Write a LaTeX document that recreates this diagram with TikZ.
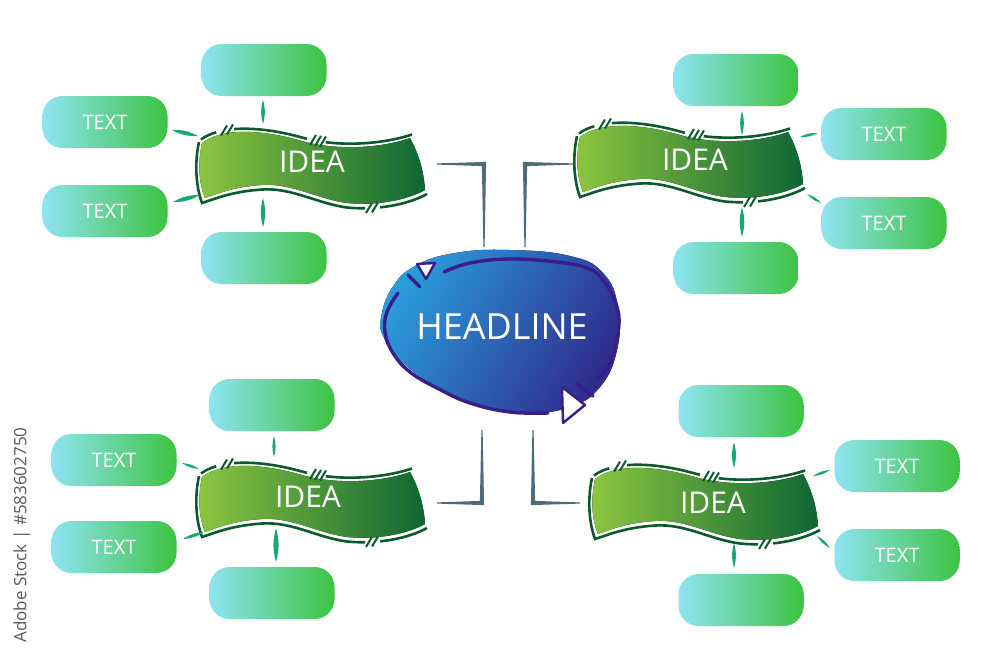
\documentclass[tikz,border=0pt]{standalone}
\usepackage{fontspec}
\setmainfont{Open Sans}
\usetikzlibrary{calc}
\definecolor{boxL}{HTML}{8FE4F2}
\definecolor{boxR}{HTML}{3CC341}
\definecolor{banL}{HTML}{8CC63F}
\definecolor{banR}{HTML}{0E6634}
\definecolor{banLine}{HTML}{0B5A2A}
\definecolor{spokeC}{HTML}{16A86E}
\definecolor{linkC}{HTML}{4F6B78}
\definecolor{blobL}{HTML}{2A9CDB}
\definecolor{blobR}{HTML}{2F2C8C}
\definecolor{blobLine}{HTML}{3A1C8C}
\definecolor{wmC}{HTML}{5A5A5A}
\begin{document}
\begin{tikzpicture}[x=1pt,y=-1pt,
  tbox/.style={rounded corners=20pt,minimum width=125pt,minimum height=52pt,
    inner sep=0pt,left color=boxL,right color=boxR,text=white,
    font=\fontsize{20}{20}\selectfont},
  ideatxt/.style={text=white,inner sep=0pt,font=\fontsize{30}{30}\selectfont},
  spk/.style={fill=spokeC},
  lnk/.style={fill=linkC},
  bline/.style={draw=blobLine,line width=3.4pt,line cap=round},
  banner/.pic={
    \fill[left color=banL,right color=banR]
      (-110,-23) .. controls (-92,-37) and (-55,-38) .. (-10,-25)
      .. controls (25,-15) and (70,-18) .. (98,-28)
      .. controls (108,-10) and (112,8) .. (113,24)
      .. controls (95,34) and (65,40) .. (35,37)
      .. controls (5,33) and (-20,17) .. (-50,19)
      .. controls (-80,21) and (-95,28) .. (-107,32)
      .. controls (-114,15) and (-114,-5) .. (-110,-23) -- cycle;
    \draw[banLine,line width=2.6pt,dash pattern=on 17pt off 18pt on 74pt off 19pt on 400pt]
      (-111,-26.5) .. controls (-93,-40) and (-55,-41) .. (-10,-28.5)
      .. controls (25,-18.5) and (70,-21.5) .. (100,-31.5);
    \draw[banLine,line width=2.6pt,dash pattern=on 49pt off 15pt on 600pt]
      (115,28) .. controls (96,38.5) and (65,44.5) .. (35,41.5)
      .. controls (5,37.5) and (-20,21.5) .. (-50,23.5)
      .. controls (-80,25.5) and (-96,32.5) .. (-110,37)
      .. controls (-117,18) and (-117,-6) .. (-113,-24);
    \foreach \px/\py in {-88/-35.5,-82/-36.5,1/-26,6/-25,11/-24.5,63/41.5,57/42}
      \draw[banLine,line width=2pt] (\px-3,\py+5) -- (\px+3,\py-5);
  }
]
\fill[white] (0,0) rectangle (1000,665);
\useasboundingbox (0,0) rectangle (1000,665);

% ---------- central headline blob ----------
\fill[top color=blobL,bottom color=blobR,shading angle=60]
  plot[smooth cycle,tension=0.75] coordinates {(381,318) (392,288) (415,266) (455,253) (510,250) (570,256) (603,273) (618,307) (617,350) (600,387) (570,407) (527,413) (487,407) (437,387) (400,360) (384,338)};
\draw[bline] plot[smooth,tension=0.7] coordinates {(444,272) (470,263) (510,259) (557,262) (587,268) (603,280) (617,307) (618,333) (610,363) (597,380)};
\draw[bline] plot[smooth,tension=0.7] coordinates {(398,293) (387,312) (385,332) (393,353) (410,372) (437,388) (470,403) (510,412) (548,413)};
\draw[bline] (408,275) -- (420,287);
\draw[bline] (577,384) -- (593,396);
\draw[bline,line width=2.4pt,fill=white,line join=round] (417,264) -- (435,263) -- (426,279) -- cycle;
\draw[bline,line width=2.4pt,fill=white,line join=round] (562,387) -- (585,405) -- (563,423) -- cycle;
\node[text=white,inner sep=0pt,font=\fontsize{36}{36}\selectfont] (head) at (502,327) {HEADLINE};

% ---------- L-shaped links ----------
\coordinate (tlH) at (437,164); \coordinate (tlC) at (484,164); \coordinate (tlV) at (484,247);
\coordinate (trH) at (573,164); \coordinate (trC) at (525,164); \coordinate (trV) at (525,247);
\coordinate (blH) at (437,503); \coordinate (blC) at (482,503); \coordinate (blV) at (482,430);
\coordinate (brH) at (580,503); \coordinate (brC) at (533,503); \coordinate (brV) at (533,430);
\fill[lnk] ($(tlH)+(0,-0.6)$) -- ($(tlC)+(2.1,-2.1)$) -- ($(tlV)+(0.6,0)$) -- ($(tlV)+(-0.6,0)$) -- ($(tlC)+(-2.1,2.1)$) -- ($(tlH)+(0,0.6)$) -- cycle;
\fill[lnk] ($(trH)+(0,-0.6)$) -- ($(trC)+(-2.1,-2.1)$) -- ($(trV)+(-0.6,0)$) -- ($(trV)+(0.6,0)$) -- ($(trC)+(2.1,2.1)$) -- ($(trH)+(0,0.6)$) -- cycle;
\fill[lnk] ($(blH)+(0,0.6)$) -- ($(blC)+(2.1,2.1)$) -- ($(blV)+(0.6,0)$) -- ($(blV)+(-0.6,0)$) -- ($(blC)+(-2.1,-2.1)$) -- ($(blH)+(0,-0.6)$) -- cycle;
\fill[lnk] ($(brH)+(0,0.6)$) -- ($(brC)+(-2.1,2.1)$) -- ($(brV)+(-0.6,0)$) -- ($(brV)+(0.6,0)$) -- ($(brC)+(2.1,-2.1)$) -- ($(brH)+(0,-0.6)$) -- cycle;

% ---------- banners ----------
\pic at (312,166) {banner};
\pic at (690,160) {banner};
\pic at (312,500) {banner};
\pic at (705,502) {banner};
\node[ideatxt] (tlIdea) at (312,162) {IDEA};
\node[ideatxt] (trIdea) at (695,160) {IDEA};
\node[ideatxt] (blIdea) at (308,497) {IDEA};
\node[ideatxt] (brIdea) at (713,503) {IDEA};

% ---------- boxes ----------
\node[tbox] (tlTop) at (264,70) {};
\node[tbox] (tlT1) at (105,122) {TEXT};
\node[tbox] (tlT2) at (105,211) {TEXT};
\node[tbox] (tlBot) at (264,258) {};
\node[tbox] (trTop) at (736,80) {};
\node[tbox] (trT1) at (884,134) {TEXT};
\node[tbox] (trT2) at (884,223) {TEXT};
\node[tbox] (trBot) at (736,268) {};
\node[tbox] (blTop) at (272,405) {};
\node[tbox] (blT1) at (114,460) {TEXT};
\node[tbox] (blT2) at (114,547) {TEXT};
\node[tbox] (blBot) at (272,593) {};
\node[tbox] (brTop) at (741,411) {};
\node[tbox] (brT1) at (897,466) {TEXT};
\node[tbox] (brT2) at (897,555) {TEXT};
\node[tbox] (brBot) at (741,600) {};

% ---------- spokes ----------
\foreach \n/\a/\b in {
  s1/{263,100}/{263,124}, s2/{263,198}/{263,227}, s3/{172,130}/{198,136}, s4/{173,202}/{200,195},
  s5/{742,111}/{742,135}, s6/{742,207}/{742,237}, s7/{800,137}/{818,133}, s8/{807,194}/{821,203},
  s9/{274,436}/{274,457}, s10/{276,528}/{276,562}, s11/{182,463}/{199,469}, s12/{183,539}/{204,532},
  s13/{734,442}/{734,468}, s14/{734,543}/{734,568}, s15/{813,476}/{830,470}, s16/{817,536}/{830,548}}
{
  \coordinate (\n a) at (\a);
  \coordinate (\n b) at (\b);
  \fill[spk] (\n a) to[bend left=15] (\n b) to[bend left=15] (\n a);
}

% ---------- vertical side text ----------
\node[rotate=90,text=wmC,inner sep=0pt,font=\fontsize{17}{17}\selectfont] (wmk) at (22,535) {Adobe Stock | \#583602750};
\end{tikzpicture}
\end{document}
